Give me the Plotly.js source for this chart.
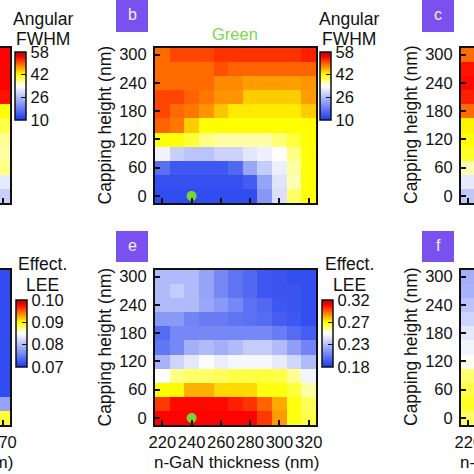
<!DOCTYPE html>
<html>
<head>
<meta charset="utf-8">
<script src="https://cdn.plot.ly/plotly-3.0.1.min.js"></script>
<style>html,body{margin:0;padding:0;background:#fff;overflow:hidden}#plot{width:474px;height:474px}</style>
</head>
<body>
<div id="plot"></div>
<script>
const cappingHeights = [0, 30, 60, 90, 120, 150, 180, 210, 240, 270, 300];
const thicknessB = [220, 230, 240, 250, 260, 270, 280, 290, 300, 310, 320];
const heightTicks = [0, 60, 120, 180, 240, 300];
const thicknessTicks = [220, 240, 260, 280, 300, 320];

// rows listed bottom (0 nm) to top (300 nm)
const fwhmA = [[28.2],[31.6],[37.8],[36.9],[37.4],[39.8],[42],[53.8],[54.6],[54.6],[54.6]];
const fwhmB = [
  [12.4,12.4,12.4,12.4,12.4,12.4,12.4,21.5,30.2,38.8,41.7],
  [12.9,12.9,12.9,12.9,12.9,12.9,14.3,23,30.6,36.4,41.7],
  [16.7,13.8,13.8,13.8,13.8,15.8,23.4,27.8,32.1,36.9,41.7],
  [32.6,28.2,26.8,26.8,28.7,28.7,31.1,32.1,34,37.8,41.7],
  [41.7,41.7,40.2,37.8,36.9,36.9,36.9,36.9,38.3,40.2,42],
  [49.8,48.9,44.6,42,42,42,42,42,42,42,42],
  [51.3,49.4,48.9,47.4,45,43,43,43,43,43,44.6],
  [51.3,51.3,49.8,48.9,47.4,47.4,44.6,44.6,44.6,44.6,47],
  [49.4,49.4,49.4,49.4,47.9,47.9,47,47,47,47,47.4],
  [49.4,49.4,49.4,49.4,50.8,49.8,49.8,49.8,49.8,49.8,49.8],
  [49.4,51.3,51.3,51.3,52.2,52.2,52.2,52.2,52.2,52.2,53.2]
];
const fwhmC = [[27.3],[31.6],[36.4],[40.7],[42],[42.6],[49.4],[53.2],[54.2],[53.7],[49.4]];
const leeD = [[0.089],[0.078],[0.0715],[0.0715],[0.0715],[0.0715],[0.0715],[0.0715],[0.0715],[0.0715],[0.0715]];
const leeE = [
  [0.31,0.31,0.31,0.31,0.31,0.31,0.31,0.302,0.288,0.272,0.267],
  [0.302,0.309,0.309,0.309,0.309,0.306,0.303,0.296,0.286,0.272,0.265],
  [0.274,0.274,0.285,0.285,0.279,0.279,0.279,0.272,0.272,0.268,0.258],
  [0.25,0.261,0.264,0.264,0.265,0.267,0.267,0.268,0.267,0.26,0.246],
  [0.223,0.235,0.242,0.249,0.244,0.247,0.247,0.247,0.243,0.236,0.226],
  [0.202,0.208,0.222,0.226,0.222,0.226,0.232,0.232,0.226,0.216,0.207],
  [0.198,0.208,0.208,0.208,0.208,0.208,0.208,0.208,0.204,0.198,0.193],
  [0.214,0.214,0.207,0.204,0.204,0.201,0.2,0.198,0.193,0.191,0.188],
  [0.226,0.226,0.226,0.219,0.214,0.208,0.2,0.197,0.191,0.19,0.188],
  [0.226,0.232,0.226,0.218,0.208,0.201,0.197,0.191,0.19,0.19,0.188],
  [0.226,0.226,0.226,0.218,0.208,0.201,0.197,0.191,0.19,0.188,0.188]
];
const leeF = [[0.264],[0.27],[0.267],[0.263],[0.251],[0.246],[0.242],[0.235],[0.229],[0.223],[0.222]];

const fwhmTicks = [10, 26, 42, 58];
const fwhmLabels = ['10', '26', '42', '58'];
const leeSmallTicks = [0.07, 0.08, 0.09, 0.10];
const leeSmallLabels = ['0.07', '0.08', '0.09', '0.10'];
const leeLargeTicks = [0.18, 0.2267, 0.2733, 0.32];
const leeLargeLabels = ['0.18', '0.23', '0.27', '0.32'];

const INK = '#111';
const FONT = '"Liberation Sans", Arial, sans-serif';
const TICK = 16.5, TITLE = 17.5;
const SCALE = [[0,'#1a38ee'],[0.5,'#ffffff'],[0.667,'#ffff00'],[0.8,'#ff8000'],[0.93,'#ff0000'],[1,'#a01010']];
const W = 474, H = 474;
const px = v => v / W, py = v => 1 - v / H;

const panels = [
  {id:'', z:fwhmA, x0:270, range:[267.95,274.8], dom:[0,10], top:47.5, bot:203, zr:[10,58], side:'right', xt:[270], cb:{x:14.5,y:52,len:68,w:10.5,tv:fwhmTicks,tt:fwhmLabels}},
  {id:'2', z:fwhmB, x:thicknessB, range:[215,325], dom:[155,316], top:47.5, bot:203, zr:[10,58], xt:thicknessTicks, cb:{x:320,y:52,len:68,w:10.5,tv:fwhmTicks,tt:fwhmLabels}, dot:true},
  {id:'3', z:fwhmC, x0:220, range:[215,223.9], dom:[461,474], top:47.5, bot:203, zr:[10,58], xt:[220]},
  {id:'4', z:leeD, x0:270, range:[267.95,274.8], dom:[0,10], top:269.5, bot:425, zr:[0.07,0.10], side:'right', xt:[270], labels:true, cb:{x:15.5,y:300,len:67,w:10.5,tv:leeSmallTicks,tt:leeSmallLabels}},
  {id:'5', z:leeE, x:thicknessB, range:[215,325], dom:[155,316], top:269.5, bot:425, zr:[0.18,0.32], xt:thicknessTicks, labels:true, cb:{x:321.5,y:300,len:67,w:10.5,tv:leeLargeTicks,tt:leeLargeLabels}, dot:true},
  {id:'6', z:leeF, x0:220, range:[215,223.9], dom:[461,474], top:269.5, bot:425, zr:[0.18,0.32], xt:[220], labels:true}
];

const data = [];
const layout = {
  width:W, height:H, margin:{l:0,r:0,t:0,b:0}, paper_bgcolor:'#fff', plot_bgcolor:'#fff',
  font:{family:FONT, size:TICK, color:INK}, showlegend:false, shapes:[], annotations:[]
};

panels.forEach(p => {
  const xa = 'x'+p.id, ya = 'y'+p.id;
  const t = {type:'heatmap', z:p.z, y:cappingHeights, xaxis:xa, yaxis:ya, colorscale:SCALE,
    zmin:p.zr[0], zmax:p.zr[1], showscale:!!p.cb, hoverinfo:'skip'};
  if (p.x) t.x = p.x; else { t.x0 = p.x0; t.dx = 10; }
  if (p.cb) t.colorbar = {
    x:px(p.cb.x), xanchor:'left', y:py(p.cb.y), yanchor:'top',
    xpad:0, ypad:0, thicknessmode:'pixels', thickness:p.cb.w, lenmode:'pixels', len:p.cb.len,
    outlinewidth:1.5, outlinecolor:INK, borderwidth:0,
    tickmode:'array', tickvals:p.cb.tv, ticktext:p.cb.tt, ticks:'inside', ticklen:5, tickwidth:1.5, tickcolor:INK,
    ticklabeloverflow:'allow', tickfont:{family:FONT,size:TICK,color:INK}
  };
  data.push(t);
  if (p.dot) data.push({type:'scatter', mode:'markers', x:[240], y:[0], xaxis:xa, yaxis:ya,
    marker:{color:'#76d62f', size:10}, hoverinfo:'skip', cliponaxis:false});

  layout['xaxis'+p.id] = {
    domain:[px(p.dom[0]), px(p.dom[1])], range:p.range, anchor:ya, side:'bottom',
    tickmode:'array', tickvals:p.xt, ticks:'inside', ticklen:5, tickwidth:2, tickcolor:INK,
    showticklabels:!!p.labels, tickangle:0, ticklabelstandoff:1, ticklabeloverflow:'allow', tickfont:{family:FONT,size:TICK,color:INK},
    showgrid:false, zeroline:false, showline:true, mirror:true, linewidth:2, linecolor:INK
  };
  const right = p.side === 'right';
  layout['yaxis'+p.id] = {
    domain:[py(p.bot), py(p.top)], range:[-15,315], anchor:xa, side:right?'right':'left',
    tickmode:'array', tickvals:heightTicks, ticks:right?'':'inside', ticklen:5, tickwidth:2, tickcolor:INK,
    showticklabels:!right, ticklabelstandoff:3, ticklabeloverflow:'allow', tickfont:{family:FONT,size:TICK,color:INK},
    showgrid:false, zeroline:false, showline:true, mirror:p.dom[1]-p.dom[0]>50, linewidth:2, linecolor:INK
  };
});

function note(text, x, y, opts) {
  layout.annotations.push(Object.assign({
    text, xref:'paper', yref:'paper', x:px(x), y:py(y), xanchor:'center', yanchor:'middle',
    showarrow:false, font:{family:FONT,size:TITLE,color:INK}
  }, opts || {}));
}
[[116,0,148,32,'b'],[422,0,454,32,'c'],[116,231,148,262,'e'],[422,231,454,262,'f']].forEach(b => {
  layout.shapes.push({type:'rect', xref:'paper', yref:'paper', x0:px(b[0]), x1:px(b[2]), y0:py(b[1]), y1:py(b[3]), fillcolor:'#7a50ef', line:{width:0}});
  note(b[4], (b[0]+b[2])/2, (b[1]+b[3])/2-1, {font:{family:FONT,size:16,color:'#f4f0ff'}});
});
note('Green', 235, 34, {font:{family:FONT,size:16.5,color:'#7fd64e'}});
[43,349].forEach(x => { note('Angular', x, 19); note('FWHM', x, 39); });
[42,349].forEach(x => { note('Effect.', x, 264); note('LEE', x, 285); });
[104.5,411].forEach(x => {
  note('Capping height (nm)', x, 125, {textangle:-90});
  note('Capping height (nm)', x, 347, {textangle:-90});
});
note('n-GaN thickness (nm)', 236, 462, {font:{family:FONT,size:17,color:INK}});
note('n-GaN thickness (nm)', 542, 462, {font:{family:FONT,size:17,color:INK}});
note('n-GaN thickness (nm)', -70, 462, {font:{family:FONT,size:17,color:INK}});

Plotly.newPlot('plot', data, layout, {displayModeBar:false, staticPlot:true});
</script>
</body>
</html>
